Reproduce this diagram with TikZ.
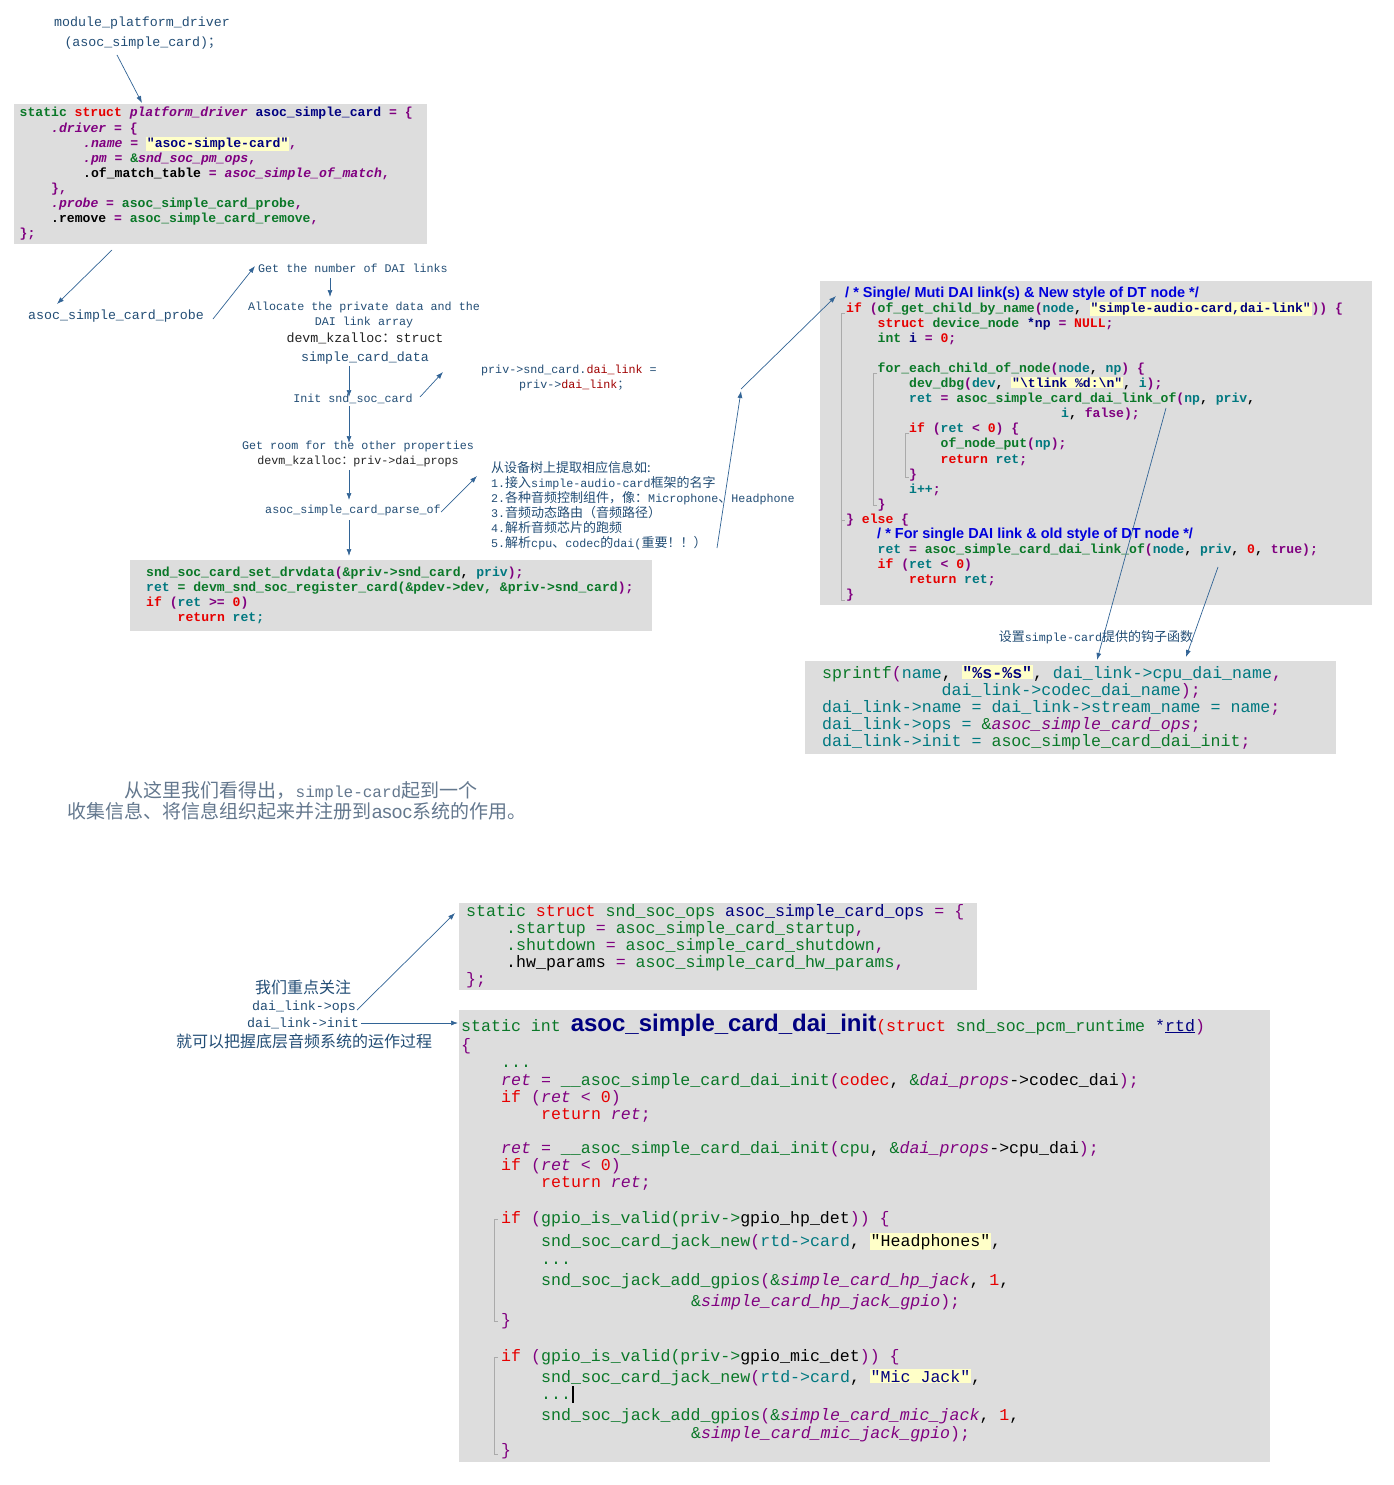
\documentclass[tikz,border=0pt]{standalone}
\usepackage{fontspec}
\usetikzlibrary{arrows.meta}
\newfontfamily\cmono[Ligatures=TeXOff]{Liberation Mono}
\newfontfamily\csans{Liberation Sans}
\newfontfamily\zhfont{Noto Sans CJK SC}
\definecolor{boxg}{RGB}{221,221,221}
\definecolor{cg}{RGB}{10,120,40}
\definecolor{cr}{RGB}{230,0,0}
\definecolor{cp}{RGB}{128,0,128}
\definecolor{cn}{RGB}{0,0,128}
\definecolor{ct}{RGB}{0,120,128}
\definecolor{cdr}{RGB}{160,0,0}
\definecolor{hly}{RGB}{255,255,200}
\definecolor{lblc}{RGB}{35,78,118}
\definecolor{dkc}{RGB}{35,35,35}
\definecolor{arrc}{RGB}{50,100,150}
\definecolor{cblue}{RGB}{0,0,220}
\definecolor{sumc}{RGB}{100,120,142}
\definecolor{guidec}{RGB}{170,170,170}
\newcommand\kG[1]{\textcolor{cg}{#1}}
\newcommand\kR[1]{\textcolor{cr}{#1}}
\newcommand\kP[1]{\textcolor{cp}{#1}}
\newcommand\kN[1]{\textcolor{cn}{#1}}
\newcommand\kT[1]{\textcolor{ct}{#1}}
\newcommand\kD[1]{\textcolor{cdr}{#1}}
\newcommand\kI[1]{\textcolor{cp}{\itshape #1}}
\newcommand\kH[1]{{\setlength{\fboxsep}{0.8pt}\colorbox{hly}{#1}}}
\newcommand\zhx[2]{{\zhfont\fontsize{#1}{#1}\selectfont #2}}
\tikzset{
 cline/.style={anchor=base west, inner sep=0pt, font=\cmono\bfseries\fontsize{13.1}{15}\selectfont},
 cbig/.style={anchor=base west, inner sep=0pt, font=\cmono\fontsize{16.6}{17}\selectfont},
 lbl/.style={anchor=base, inner sep=0pt, text=lblc, font=\cmono\fontsize{13.3}{15}\selectfont},
 lbls/.style={anchor=base, inner sep=0pt, text=lblc, font=\cmono\fontsize{11.7}{14}\selectfont},
 arr/.style={draw=arrc, line width=0.7pt, -{Latex[length=7pt,width=5pt]}},
 codebox/.style={fill=boxg, draw=none},
 guide/.style={draw=guidec, line width=0.6pt},
 cmt/.style={anchor=base west, inner sep=0pt, text=cblue, font=\csans\bfseries\fontsize{14.5}{15}\selectfont},
}
\begin{document}
\begin{tikzpicture}[x=1pt,y=-1pt]
\useasboundingbox (0,0) rectangle (1393,1485);
\fill[white] (0,0) rectangle (1393,1485);

% ---------- top-left labels ----------
\node[lbl] (mpd1) at (142,27) {module\_platform\_driver};
\node[lbl] (mpd2) at (143,47) {(asoc\_simple\_card)\zhx{13.3}{；}};
\coordinate (a1s) at (117,55);
\coordinate (a1e) at (142,103);

% ---------- box 1 ----------
\fill[codebox] (14,104) rectangle (427,244);
\node[cline] (b1l1) at (19.5,117) {\kG{static} \kR{struct} \kI{platform\_driver} \kN{asoc\_simple\_card} \kP{= \{}};
\node[cline] (b1l2) at (51,132) {\kI{.driver} \kP{= \{}};
\node[cline] (b1l3) at (83,147) {\kI{.name} \kP{=} \kH{\kN{"asoc-simple-card"}}\kP{,}};
\node[cline] (b1l4) at (83,162) {\kI{.pm} \kP{=} \kG{\&}\kI{snd\_soc\_pm\_ops}\kP{,}};
\node[cline] (b1l5) at (83,177) {.of\_match\_table \kP{=} \kI{asoc\_simple\_of\_match}\kP{,}};
\node[cline] (b1l6) at (51,192) {\kP{\},}};
\node[cline] (b1l7) at (51,207) {\kI{.probe} \kP{=} \kG{asoc\_simple\_card\_probe}\kP{,}};
\node[cline] (b1l8) at (51,222) {.remove \kP{=} \kG{asoc\_simple\_card\_remove}\kP{,}};
\node[cline] (b1l9) at (19.5,237) {\kP{\};}};

% ---------- probe flow ----------
\coordinate (a2s) at (112,250);
\coordinate (a2e) at (57,304);
\node[lbl] (probe) at (116,319) {asoc\_simple\_card\_probe};
\coordinate (a3s) at (213,319);
\coordinate (a3e) at (255,266);
\node[lbls, anchor=base west] (getnum) at (258,272) {Get the number of DAI links};
\coordinate (a4s) at (330,278);
\coordinate (a4e) at (330,297);
\node[lbls] (alloc1) at (364,310) {Allocate the private data and the};
\node[lbls] (alloc2) at (364,325) {DAI link array};
\node[lbl, text=dkc] (dk1) at (365,342) {devm\_kzalloc\zhx{13.3}{：}struct};
\node[lbl] (dk2) at (365,361) {simple\_card\_data};
\coordinate (a5s) at (349,366);
\coordinate (a5e) at (349,397);
\node[lbls] (init) at (353,402) {Init snd\_soc\_card};
\coordinate (a6s) at (420,397);
\coordinate (a6e) at (443,372);
\node[lbls, anchor=base west] (pv1) at (481,373) {priv->snd\_card.\kD{dai\_link} =};
\node[lbls, anchor=base west] (pv2) at (519,388) {priv->\kD{dai\_link}\zhx{11.7}{；}};
\coordinate (a7s) at (349,406);
\coordinate (a7e) at (349,443);
\node[lbls] (room1) at (358,449) {Get room for the other properties};
\node[lbls, text=dkc] (room2) at (358,464) {devm\_kzalloc\zhx{11.7}{：}priv->dai\_props};
\coordinate (a8s) at (349,470);
\coordinate (a8e) at (349,500);
\node[lbls] (parse) at (353,513) {asoc\_simple\_card\_parse\_of};
\coordinate (a9s) at (441,512);
\coordinate (a9e) at (477,476);
\coordinate (a10s) at (349,520);
\coordinate (a10e) at (349,556);

% ---------- chinese list ----------
\node[lbls, anchor=base west] (zh1) at (491,472) {\zhx{13}{从设备树上提取相应信息如:}};
\node[lbls, anchor=base west] (zh2) at (491,487) {1.\zhx{13}{接入}simple-audio-card\zhx{13}{框架的名字}};
\node[lbls, anchor=base west] (zh3) at (491,502) {2.\zhx{13}{各种音频控制组件，像：}Microphone\zhx{13}{、}Headphone};
\node[lbls, anchor=base west] (zh4) at (491,517) {3.\zhx{13}{音频动态路由（音频路径）}};
\node[lbls, anchor=base west] (zh5) at (491,532) {4.\zhx{13}{解析音频芯片的跑频}};
\node[lbls, anchor=base west] (zh6) at (491,547) {5.\zhx{13}{解析}cpu\zhx{13}{、}codec\zhx{13}{的}dai(\zhx{13}{重要！！}\zhx{13}{）}};
\coordinate (a11s) at (717,548);
\coordinate (a11e) at (741,391);
\coordinate (a12s) at (741,389);
\coordinate (a12e) at (836,296);

% ---------- box 2 ----------
\fill[codebox] (130,560) rectangle (652,631);
\node[cline] (b2l1) at (146,576) {\kG{snd\_soc\_card\_set\_drvdata}\kP{(}\kG{\&priv->snd\_card}, \kT{priv}\kP{);}};
\node[cline] (b2l2) at (146,591) {\kT{ret} \kG{= devm\_snd\_soc\_register\_card(\&pdev->dev, \&priv->snd\_card}\kP{);}};
\node[cline] (b2l3) at (146,606) {\kR{if} \kP{(}\kT{ret} \kP{>=} \kR{0}\kP{)}};
\node[cline] (b2l4) at (177.5,621) {\kR{return} \kT{ret;}};

% ---------- right box ----------
\fill[codebox] (820,281) rectangle (1372,605);
\draw[guide] (845,313) -- (841,313) -- (841,600) -- (845,600);
\draw[guide] (841,520) -- (845,520);
\draw[guide] (877,373) -- (873,373) -- (873,505) -- (877,505);
\draw[guide] (909,433) -- (905,433) -- (905,477) -- (909,477);
\node[cmt] (r1) at (845,297) {/ * Single/ Muti DAI link(s) \& New style of DT node */};
\node[cline] (r2) at (846,312) {\kR{if} \kP{(}\kG{of\_get\_child\_by\_name}\kP{(}\kT{node}, \kH{\kN{"simple-audio-card,dai-link"}}\kP{)) \{}};
\node[cline] (r3) at (877.5,327.1) {\kR{struct} \kG{device\_node} \kN{*np} \kP{=} \kR{NULL}\kP{;}};
\node[cline] (r4) at (877.5,342.2) {\kG{int} \kN{i} \kP{=} \kR{0}\kP{;}};
\node[cline] (r6) at (877.5,372.4) {\kG{for\_each\_child\_of\_node}\kP{(}\kT{node}, \kT{np}\kP{) \{}};
\node[cline] (r7) at (909,387.5) {\kG{dev\_dbg}\kP{(}\kT{dev}, \kH{\kN{"\textbackslash tlink \%d:\textbackslash n"}}, \kT{i}\kP{);}};
\node[cline] (r8) at (909,402.6) {\kT{ret} \kP{=} \kG{asoc\_simple\_card\_dai\_link\_of}\kP{(}\kT{np}, \kT{priv},};
\node[cline] (r9) at (1061,417.7) {\kT{i}, \kP{false);}};
\node[cline] (r10) at (909,432.8) {\kR{if} \kP{(}\kT{ret} \kP{<} \kR{0}\kP{) \{}};
\node[cline] (r11) at (940.5,447.9) {\kG{of\_node\_put}\kP{(}\kT{np}\kP{);}};
\node[cline] (r12) at (940.5,463.0) {\kR{return} \kT{ret}\kP{;}};
\node[cline] (r13) at (909,478.1) {\kP{\}}};
\node[cline] (r14) at (909,493.2) {\kT{i++}\kP{;}};
\node[cline] (r15) at (877.5,508.3) {\kP{\}}};
\node[cline] (r16) at (846,523.4) {\kP{\}} \kR{else} \kP{\{}};
\node[cmt] (r17) at (877,538.5) {/ * For single DAI link \& old style of DT node */};
\node[cline] (r18) at (877.5,553.6) {\kT{ret} \kP{=} \kG{asoc\_simple\_card\_dai\_link\_of}\kP{(}\kT{node}, \kT{priv}, \kR{0}, \kP{true);}};
\node[cline] (r19) at (877.5,568.7) {\kR{if} \kP{(}\kT{ret} \kP{<} \kR{0}\kP{)}};
\node[cline] (r20) at (909,583.8) {\kR{return} \kT{ret}\kP{;}};
\node[cline] (r21) at (846,598.9) {\kP{\}}};
\coordinate (a13s) at (1166,408);
\coordinate (a13e) at (1097,660);
\coordinate (a14s) at (1218,567);
\coordinate (a14e) at (1186,657);
\node[lbls] (hook) at (1096,641) {\zhx{13}{设置}simple-card\zhx{13}{提供的钩子函数}};

% ---------- box 3 ----------
\fill[codebox] (805,661) rectangle (1336,754);
\node[cbig] (s1) at (822,678) {\kG{sprintf}\kP{(}\kT{name}, \kH{\kN{\bfseries"\%s-\%s"}}, \kT{dai\_link->cpu\_dai\_name}\kP{,}};
\node[cbig] (s2) at (941.5,695) {\kT{dai\_link->codec\_dai\_name}\kP{);}};
\node[cbig] (s3) at (822,712) {\kT{dai\_link->name = dai\_link->stream\_name = name}\kP{;}};
\node[cbig] (s4) at (822,729) {\kT{dai\_link->ops =} \kG{\&}\kI{asoc\_simple\_card\_ops}\kP{;}};
\node[cbig] (s5) at (822,746) {\kT{dai\_link->init =} \kG{asoc\_simple\_card\_dai\_init}\kP{;}};

% ---------- summary ----------
\node[anchor=base, inner sep=0pt, text=sumc] (sum1) at (301,797) {\zhx{19}{从这里我们看得出，}{\cmono\fontsize{16}{16}\selectfont simple-card}\zhx{19}{起到一个}};
\node[anchor=base, inner sep=0pt, text=sumc] (sum2) at (297,818) {\zhx{19}{收集信息、将信息组织起来并注册到}{\csans\fontsize{19}{19}\selectfont asoc}\zhx{19}{系统的作用。}};

% ---------- bottom left labels ----------
\node[lbl] (f1) at (303,993) {\zhx{16}{我们重点关注}};
\node[lbl] (f2) at (304,1010) {dai\_link->ops};
\node[lbl] (f3) at (303,1027) {dai\_link->init};
\node[lbl] (f4) at (304,1047) {\zhx{16}{就可以把握底层音频系统的运作过程}};
\coordinate (a15s) at (357,1010);
\coordinate (a15e) at (455,913);
\coordinate (a16s) at (361,1023);
\coordinate (a16e) at (458,1023);

% ---------- box 4 ----------
\fill[codebox] (459,903) rectangle (977,990);
\node[cbig] (o1) at (466,916.5) {\kG{static} \kR{struct} \kG{snd\_soc\_ops} \kN{asoc\_simple\_card\_ops} \kP{= \{}};
\node[cbig] (o2) at (506,933.5) {\kG{.startup} \kP{=} \kG{asoc\_simple\_card\_startup}\kP{,}};
\node[cbig] (o3) at (506,950.5) {\kG{.shutdown} \kP{=} \kG{asoc\_simple\_card\_shutdown}\kP{,}};
\node[cbig] (o4) at (506,967.5) {.hw\_params \kP{=} \kG{asoc\_simple\_card\_hw\_params}\kP{,}};
\node[cbig] (o5) at (466,984.5) {\kP{\};}};

% ---------- box 5 ----------
\fill[codebox] (459,1010) rectangle (1270,1462);
\draw[guide] (498,1219) -- (494,1219) -- (494,1321) -- (498,1321);
\draw[guide] (498,1357) -- (494,1357) -- (494,1454) -- (498,1454);
\node[cbig] (d1) at (461,1031) {\kG{static int }{\csans\bfseries\fontsize{24}{24}\selectfont\kN{asoc\_simple\_card\_dai\_init}}\kR{(struct} \kG{snd\_soc\_pcm\_runtime} \kN{*\underline{rtd}}\kP{)}};
\node[cbig] (d2) at (461,1050) {\kP{\{}};
\node[cbig] (d3) at (501,1067) {\kG{...}};
\node[cbig] (d4) at (501,1085) {\kI{ret} \kP{=} \kG{\_\_asoc\_simple\_card\_dai\_init}\kP{(}\kR{codec}, \kG{\&}\kI{dai\_props}->codec\_dai\kP{);}};
\node[cbig] (d5) at (501,1102) {\kR{if} \kP{(}\kI{ret} \kP{<} \kR{0}\kP{)}};
\node[cbig] (d6) at (541,1119) {\kR{return} \kI{ret}\kP{;}};
\node[cbig] (d7) at (501,1153) {\kI{ret} \kP{=} \kG{\_\_asoc\_simple\_card\_dai\_init}\kP{(}\kG{cpu}, \kG{\&}\kI{dai\_props}->cpu\_dai\kP{);}};
\node[cbig] (d8) at (501,1170) {\kR{if} \kP{(}\kI{ret} \kP{<} \kR{0}\kP{)}};
\node[cbig] (d9) at (541,1187) {\kR{return} \kI{ret}\kP{;}};
\node[cbig] (d10) at (501,1223) {\kR{if} \kP{(}\kG{gpio\_is\_valid(priv->}gpio\_hp\_det\kP{)) \{}};
\node[cbig] (d11) at (541,1246) {\kG{snd\_soc\_card\_jack\_new}\kP{(}\kT{rtd->card}, \kH{"Headphones"},};
\node[cbig] (d12) at (541,1264) {\kG{...}};
\node[cbig] (d13) at (541,1285) {\kG{snd\_soc\_jack\_add\_gpios}\kP{(}\kG{\&}\kI{simple\_card\_hp\_jack}, \kR{1},};
\node[cbig] (d14) at (691,1306) {\kG{\&}\kI{simple\_card\_hp\_jack\_gpio}\kP{);}};
\node[cbig] (d15) at (501,1325) {\kP{\}}};
\node[cbig] (d16) at (501,1361) {\kR{if} \kP{(}\kG{gpio\_is\_valid(priv->}gpio\_mic\_det\kP{)) \{}};
\node[cbig] (d17) at (541,1382) {\kG{snd\_soc\_card\_jack\_new}\kP{(}\kT{rtd->card}, \kH{\kN{"Mic Jack"}},};
\node[cbig] (d18) at (541,1399) {\kG{...}};
\draw[line width=1.5pt] (573,1386) -- (573,1403);
\node[cbig] (d19) at (541,1420) {\kG{snd\_soc\_jack\_add\_gpios}\kP{(}\kG{\&}\kI{simple\_card\_mic\_jack}, \kR{1},};
\node[cbig] (d20) at (691,1438) {\kG{\&}\kI{simple\_card\_mic\_jack\_gpio}\kP{);}};
\node[cbig] (d21) at (501,1455) {\kP{\}}};

% ---------- connectors (drawn last, above the boxes) ----------
\draw[arr] (a1s) -- (a1e);
\draw[arr] (a2s) -- (a2e);
\draw[arr] (a3s) -- (a3e);
\draw[arr] (a4s) -- (a4e);
\draw[arr] (a5s) -- (a5e);
\draw[arr] (a6s) -- (a6e);
\draw[arr] (a7s) -- (a7e);
\draw[arr] (a8s) -- (a8e);
\draw[arr] (a9s) -- (a9e);
\draw[arr] (a10s) -- (a10e);
\draw[arr] (a11s) -- (a11e);
\draw[arr] (a12s) -- (a12e);
\draw[arr] (a13s) -- (a13e);
\draw[arr] (a14s) -- (a14e);
\draw[arr] (a15s) -- (a15e);
\draw[arr] (a16s) -- (a16e);
\end{tikzpicture}
\end{document}
